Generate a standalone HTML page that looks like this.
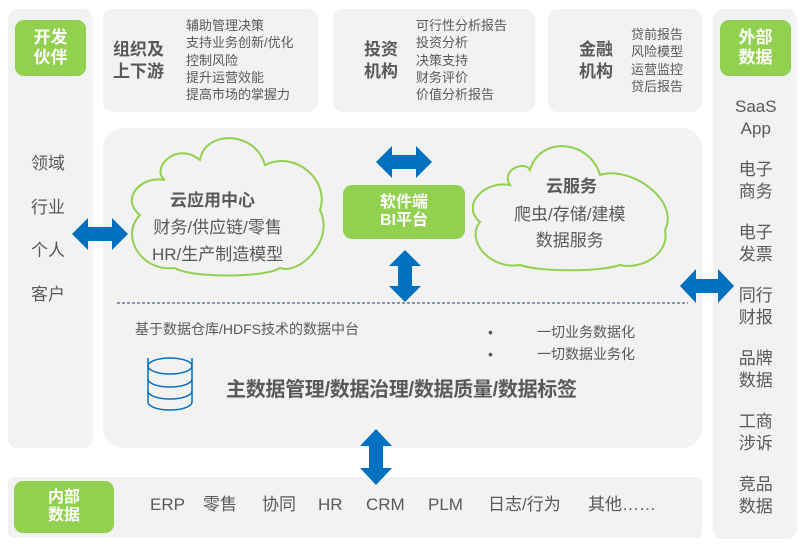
<!DOCTYPE html><html><head><meta charset="utf-8"><style>
body{margin:0;width:807px;height:544px;background:#fff;position:relative;font-family:"Liberation Sans","Noto Sans CJK SC",sans-serif;color:#595959;overflow:hidden}
.a{position:absolute}
.box{position:absolute;background:#f2f2f2;border-radius:10px}
.g{position:absolute;background:#92d050;border-radius:9px;color:#fff;font-weight:bold;text-align:center;display:flex;align-items:center;justify-content:center;line-height:1.15}
.t{position:absolute;font-size:13px;line-height:17.3px;white-space:nowrap}
.h{position:absolute;font-size:17px;font-weight:bold;line-height:22px;color:#595959;text-align:center}
.c{position:absolute;font-size:17px;line-height:22px;text-align:center;white-space:nowrap}
</style></head><body>
<div class="box" style="left:8px;top:9px;width:85px;height:439px"></div>
<div class="box" style="left:103px;top:9px;width:215px;height:103px"></div>
<div class="box" style="left:333px;top:9px;width:202px;height:103px"></div>
<div class="box" style="left:548px;top:9px;width:154px;height:103px"></div>
<div class="box" style="left:713px;top:9px;width:84px;height:530px"></div>
<div class="box" style="left:103px;top:128px;width:599px;height:320px;border-radius:20px"></div>
<div class="box" style="left:8px;top:477px;width:694px;height:61px;border-radius:6px"></div>

<div class="g" style="left:15px;top:20px;width:71px;height:56px;font-size:17px">开发<br>伙伴</div>
<div class="g" style="left:720px;top:20px;width:71px;height:56px;font-size:17px">外部<br>数据</div>
<div class="g" style="left:14px;top:481px;width:100px;height:52px;font-size:16px">内部<br>数据</div>
<div class="g" style="left:343px;top:185px;width:122px;height:54px;font-size:16px">软件端<br>BI平台</div>

<div class="h" style="left:113px;top:39px">组织及<br>上下游</div>
<div class="t" style="left:186px;top:17px">辅助管理决策<br>支持业务创新/优化<br>控制风险<br>提升运营效能<br>提高市场的掌握力</div>
<div class="h" style="left:364px;top:39px">投资<br>机构</div>
<div class="t" style="left:416px;top:17px">可行性分析报告<br>投资分析<br>决策支持<br>财务评价<br>价值分析报告</div>
<div class="h" style="left:579px;top:39px">金融<br>机构</div>
<div class="t" style="left:631px;top:26px">贷前报告<br>风险模型<br>运营监控<br>贷后报告</div>

<div class="c" style="left:31px;top:142px;line-height:43.5px">领域<br>行业<br>个人<br>客户</div>
<div class="c" style="left:735px;top:96px;text-align:center;line-height:22px">SaaS<br>App<br><div style="height:19px"></div>电子<br>商务<br><div style="height:19px"></div>电子<br>发票<br><div style="height:19px"></div>同行<br>财报<br><div style="height:19px"></div>品牌<br>数据<br><div style="height:19px"></div>工商<br>涉诉<br><div style="height:19px"></div>竞品<br>数据</div>

<svg class="a" style="left:0;top:0" width="807" height="544">
<g fill="#f2f2f2" stroke="#92d050" stroke-width="2">
<path d="M165,180 C150,170 175,140 200,160 C205,130 255,130 265,165 C295,150 330,180 320,210 C335,240 300,275 280,268 C265,278 190,278 175,268 C140,272 120,235 140,215 C120,200 140,175 165,180 Z"/>
<path d="M510,185 C500,170 525,160 530,170 C540,135 590,140 600,175 C630,165 680,200 665,230 C670,255 640,270 620,265 C600,272 540,272 520,265 C490,270 465,240 480,222 C460,205 485,180 510,185 Z"/>
</g>
<line x1="117" y1="303" x2="688" y2="303" stroke="#1f3864" stroke-width="1" stroke-dasharray="3,2"/>
<g fill="#0070c0">
<path d="M72,234 L88,218 L88,227 L112,227 L112,218 L128,234 L112,250 L112,241 L88,241 L88,250 Z"/>
<path d="M376,162 L392,146 L392,155 L416,155 L416,146 L432,162 L416,178 L416,169 L392,169 L392,178 Z"/>
<path d="M405,250 L421,266 L412,266 L412,286 L421,286 L405,302 L389,286 L398,286 L398,266 L389,266 Z"/>
<path d="M680,286 L696,269 L696,279 L718,279 L718,269 L734,286 L718,303 L718,293 L696,293 L696,303 Z"/>
<path d="M376,429 L392,446 L383,446 L383,468 L392,468 L376,485 L360,468 L369,468 L369,446 L360,446 Z"/>
</g>
<g fill="none" stroke="#0070c0" stroke-width="1.5">
<ellipse cx="170" cy="366" rx="22" ry="8"/>
<path d="M148,358 V402 A22,8 0 0 0 192,402 V358"/>
<path d="M148,379 A22,8 0 0 0 192,379"/>
<path d="M148,391 A22,8 0 0 0 192,391"/>
</g>
</svg>

<div class="h" style="left:170px;top:190px">云应用中心</div>
<div class="c" style="left:152px;top:214px;line-height:27px">财务/供应链/零售<br>HR/生产制造模型</div>
<div class="h" style="left:546px;top:176px">云服务</div>
<div class="c" style="left:514px;top:202px;line-height:26px">爬虫/存储/建模<br>数据服务</div>

<div class="t" style="left:135px;top:321px;font-size:14px">基于数据仓库/HDFS技术的数据中台</div>
<div class="t" style="left:488px;top:321px;font-size:14px;line-height:22px">•<br>•</div>
<div class="t" style="left:537px;top:321px;font-size:14px;line-height:22px">一切业务数据化<br>一切数据业务化</div>
<div class="t" style="left:226px;top:382px;font-size:20px;font-weight:bold;letter-spacing:-0.3px">主数据管理/数据治理/数据质量/数据标签</div>

<div class="t" style="left:150px;top:496px;font-size:17px">ERP</div>
<div class="t" style="left:203px;top:496px;font-size:17px">零售</div>
<div class="t" style="left:262px;top:496px;font-size:17px">协同</div>
<div class="t" style="left:318px;top:496px;font-size:17px">HR</div>
<div class="t" style="left:366px;top:496px;font-size:17px">CRM</div>
<div class="t" style="left:428px;top:496px;font-size:17px">PLM</div>
<div class="t" style="left:488px;top:496px;font-size:17px">日志/行为</div>
<div class="t" style="left:588px;top:496px;font-size:17px">其他……</div>
</body></html>
